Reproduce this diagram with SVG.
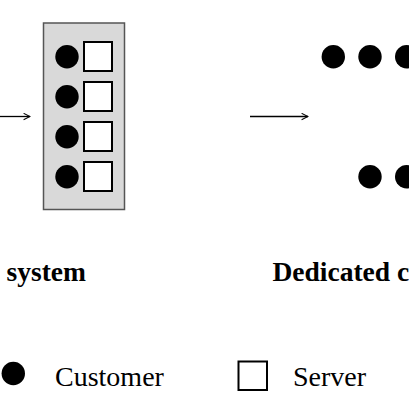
<svg xmlns="http://www.w3.org/2000/svg" width="409" height="409" viewBox="0 0 409 409">
<defs>
<style>
.cust{fill:#000}
.srv{fill:#fff;stroke:#000;stroke-width:2}
.conn{stroke:#000;stroke-width:1.3;fill:none}
.title{font-family:"Liberation Serif","Times New Roman",serif;font-weight:bold;font-size:27.5px;fill:#000}
.leg{font-family:"Liberation Serif","Times New Roman",serif;font-size:28px;fill:#000}
</style>
<marker id="open" viewBox="0 0 10 10" refX="9" refY="5" markerWidth="8" markerHeight="8" markerUnits="userSpaceOnUse" orient="auto">
<path d="M1,1 L9,5 L1,9" fill="none" stroke="#000" stroke-width="1.3"/>
</marker>
</defs>
<rect width="409" height="409" fill="#fff"/>
<g id="connectors">
<line class="conn" x1="0" y1="116.5" x2="30" y2="116.5" marker-end="url(#open)"/>
<line class="conn" x1="250" y1="116.5" x2="308" y2="116.5" marker-end="url(#open)"/>
</g>
<g id="pooled-system">
<rect x="43.5" y="23" width="81" height="186.5" fill="#d9d9d9" stroke="#555" stroke-width="1.5"/>
<circle class="cust" cx="67" cy="56.7" r="11.7"/>
<rect class="srv" x="84" y="42" width="28" height="29"/>
<circle class="cust" cx="67" cy="96.7" r="11.7"/>
<rect class="srv" x="84" y="82" width="28" height="29"/>
<circle class="cust" cx="67" cy="136.7" r="11.7"/>
<rect class="srv" x="84" y="122" width="28" height="29"/>
<circle class="cust" cx="67" cy="176.7" r="11.7"/>
<rect class="srv" x="84" y="162" width="28" height="29"/>
</g>
<g id="dedicated">
<circle class="cust" cx="333.3" cy="56.7" r="11.7"/>
<circle class="cust" cx="370" cy="56.7" r="11.7"/>
<circle class="cust" cx="406.7" cy="56.7" r="11.7"/>
<circle class="cust" cx="370" cy="176.7" r="11.7"/>
<circle class="cust" cx="406.7" cy="176.7" r="11.7"/>
</g>
<g id="labels">
<text class="title" x="6.5" y="281">system</text>
<text class="title" x="272.5" y="281">Dedicated c</text>
</g>
<g id="legend">
<circle class="cust" cx="13.3" cy="373.5" r="11.7"/>
<text class="leg" x="55" y="385.5">Customer</text>
<rect class="srv" x="238.5" y="361.5" width="28.5" height="28.5"/>
<text class="leg" x="293" y="385.5">Server</text>
</g>
</svg>
